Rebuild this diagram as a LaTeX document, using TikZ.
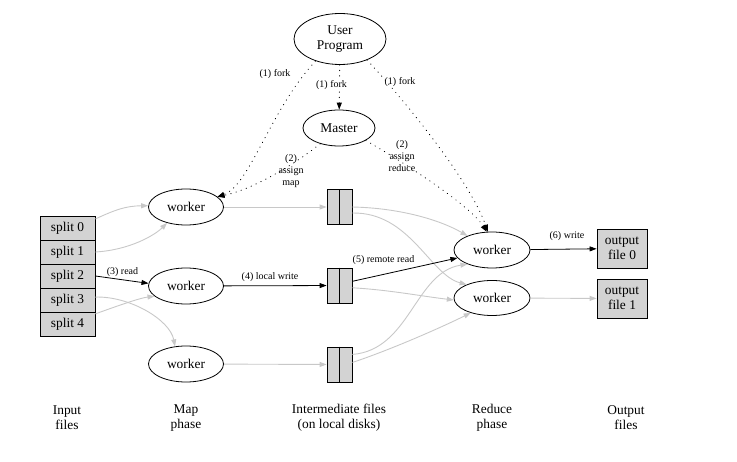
\documentclass[tikz,border=0pt]{standalone}
\usepackage{fontspec}
\setmainfont{Liberation Serif}
\usetikzlibrary{shapes.geometric,arrows.meta}
\definecolor{edgegray}{RGB}{200,200,200}
\definecolor{boxgray}{RGB}{211,211,211}
\begin{document}
\begin{tikzpicture}[x=1pt,y=-1pt,
  every node/.style={font=\fontsize{13.4}{15}\selectfont},
  ell/.style={ellipse,draw,line width=0.8pt,inner sep=0pt,align=center},
  proc/.style={ell,minimum width=75pt,minimum height=36pt},
  splitbox/.style={draw,line width=0.8pt,fill=boxgray,minimum width=55pt,minimum height=24pt,inner sep=0pt},
  filebox/.style={draw,line width=0.8pt,fill=boxgray,minimum width=25pt,minimum height=35pt,inner sep=0pt},
  outbox/.style={draw,line width=0.8pt,fill=boxgray,minimum width=50pt,minimum height=39pt,inner sep=0pt,align=center},
  lab/.style={font=\fontsize{10}{12}\selectfont,inner sep=0.5pt,align=center},
  caption/.style={align=center},
  blk/.style={draw=black,line width=0.8pt,-{Triangle[length=7pt,width=5pt]}},
  gry/.style={draw=edgegray,line width=0.9pt,-{Triangle[length=7pt,width=5pt,fill=edgegray]}},
  forkedge/.style={draw=black,line width=0.9pt,dash pattern=on 0.4pt off 5pt,line cap=round,-{Triangle[length=7pt,width=5pt]}}
]
\useasboundingbox (0,0) rectangle (737,462);

% nodes
\node[ell,minimum width=92pt,minimum height=51pt] (up) at (340,39) {User\\Program};
\node[ell,minimum width=72pt,minimum height=36pt] (master) at (339,128) {Master};

\node[splitbox] (s0) at (67.5,228) {split 0};
\node[splitbox] (s1) at (67.5,252) {split 1};
\node[splitbox] (s2) at (67.5,276) {split 2};
\node[splitbox] (s3) at (67.5,300) {split 3};
\node[splitbox] (s4) at (67.5,324) {split 4};

\node[proc] (w1) at (186,207) {worker};
\node[proc] (w2) at (186,286) {worker};
\node[proc] (w3) at (186,364) {worker};

\node[filebox] (f1) at (339.5,207) {};
\node[filebox] (f2) at (339.5,285.5) {};
\node[filebox] (f3) at (339.5,364.5) {};
\draw[line width=0.8pt] (f1.north) -- (f1.south);
\draw[line width=0.8pt] (f2.north) -- (f2.south);
\draw[line width=0.8pt] (f3.north) -- (f3.south);

\node[proc,minimum width=76pt] (r1) at (492,250) {worker};
\node[proc,minimum width=76pt,minimum height=35pt] (r2) at (492,298) {worker};

\node[outbox] (o0) at (622,248.5) {output\\file 0};
\node[outbox] (o1) at (622,298.5) {output\\file 1};

% captions
\node[caption] (c1) at (67,418) {Input\\files};
\node[caption] (c2) at (186,418) {Map\\phase};
\node[caption] (c3) at (339,418) {Intermediate files\\(on local disks)};
\node[caption] (c4) at (492,418) {Reduce\\phase};
\node[caption] (c5) at (626,418) {Output\\files};

% fork / assign edges (dotted)
\draw[forkedge] (up.222) .. controls (270,110) and (250,185) .. (w1.18);
\draw[forkedge] (master.220) .. controls (290,168) and (250,190) .. (w1.18);
\draw[forkedge] (up) -- (master);
\draw[forkedge] (up.322) .. controls (400,95) and (470,180) .. (r1.103);
\draw[forkedge] (master.335) .. controls (400,160) and (470,205) .. (r1.106);

\node[lab] (l1) at (275,74) {(1) fork};
\node[lab,fill=white] (l2) at (331.5,85) {(1) fork};
\node[lab] (l3) at (400,82) {(1) fork};
\node[lab] (l4) at (291,171) {(2)\\assign\\map};
\node[lab] (l5) at (402,156) {(2)\\assign\\reduce};

% input edges
\draw[gry] (s0.18) .. controls (115,210) and (125,206) .. (w1.178);
\draw[gry] (s1.east) .. controls (130,250) and (155,235) .. (w1.220);
\draw[blk] (s2.east) -- (w2.176);
\draw[gry] (s3.6) .. controls (130,296) and (170,320) .. (w3.122);
\draw[gry] (s4.20) .. controls (120,305) and (140,298) .. (w2.198);
\node[lab] (l6) at (122.5,272) {(3) read};

% map -> intermediate
\draw[gry] (w1) -- (f1);
\draw[blk] (w2) -- (f2);
\draw[gry] (w3) -- (f3);
\node[lab] (l7) at (270,277) {(4) local write};

% intermediate -> reduce
\draw[gry] (f1.east) .. controls (400,208) and (440,220) .. (r1.150);
\draw[gry] (f1.335) .. controls (410,212) and (430,275) .. (r2.152);
\draw[blk] (f2.18) -- (r1.193);
\draw[gry] (f2.350) .. controls (390,290) and (420,296) .. (r2.183);
\draw[gry] (f3.38) .. controls (410,350) and (415,272) .. (r1.210);
\draw[gry] (f3.9) .. controls (390,350) and (440,328) .. (r2.215);
\node[lab] (l8) at (383.5,260) {(5) remote read};

% reduce -> output
\draw[blk] (r1) -- (o0);
\draw[gry] (r2) -- (o1);
\node[lab] (l9) at (567,236) {(6) write};
\end{tikzpicture}
\end{document}
